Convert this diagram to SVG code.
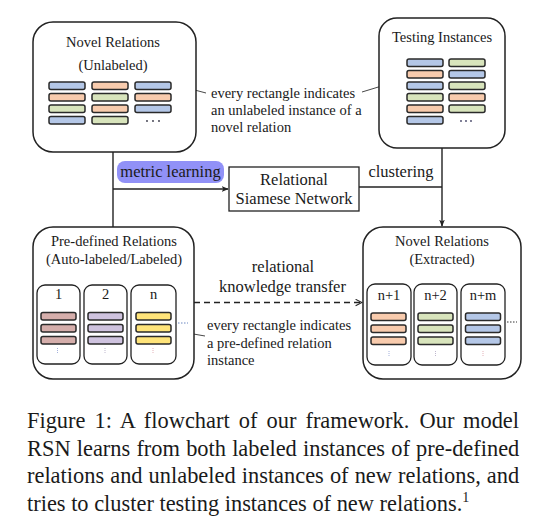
<svg xmlns="http://www.w3.org/2000/svg" width="559" height="532" viewBox="0 0 559 532">
<style>
text{font-family:"Liberation Serif","Times New Roman",serif;fill:#1a1a1a}
.t{font-size:14.5px;text-anchor:middle}
.l{font-size:16.5px}
.a{font-size:14.5px}
.cap{font-size:22.4px}
.box{fill:#fff;stroke:#222;stroke-width:1.5}
.inner{fill:#fff;stroke:#222;stroke-width:1.3}
.r{stroke:#2a2a2a;stroke-width:1.5}
.b{fill:#b4c7e7}.o{fill:#f8cbad}.g{fill:#d8e4bc}.p{fill:#d5aeab}.v{fill:#cfc3df}.y{fill:#ffe47a}
.ln{stroke:#222;stroke-width:1.4;fill:none}
.thin{stroke:#333;stroke-width:0.9;fill:none}
.vd{stroke-width:0.9;stroke-dasharray:1 1}
</style>
<defs>
<marker id="ah" viewBox="0 0 10 10" refX="9" refY="5" markerWidth="7" markerHeight="7" orient="auto" markerUnits="userSpaceOnUse">
<path d="M0,1 L10,5 L0,9 L2.5,5 Z" fill="#222"/>
</marker>
<marker id="open" viewBox="0 0 10 10" refX="9" refY="5" markerWidth="8" markerHeight="8" orient="auto" markerUnits="userSpaceOnUse">
<path d="M1,1 L9,5 L1,9" fill="none" stroke="#222" stroke-width="1.3"/>
</marker>
</defs>

<g id="connectors">
<line class="ln" x1="113" y1="152" x2="113" y2="227"/>
<line class="ln" x1="113" y1="189" x2="228" y2="189" marker-end="url(#ah)"/>
<line class="ln" x1="442" y1="148" x2="442" y2="226" marker-end="url(#ah)"/>
<line class="ln" x1="359" y1="187" x2="442" y2="187"/>
<line class="ln" x1="194" y1="302.5" x2="362" y2="302.5" stroke-dasharray="6 4" marker-end="url(#open)"/>
<line class="thin" x1="172" y1="84" x2="206" y2="93"/>
<line class="thin" x1="362" y1="92" x2="398" y2="81"/>
<line class="thin" x1="176" y1="331" x2="205" y2="336"/>
</g>

<g id="novel-unlabeled">
<rect class="box" x="33" y="22" width="163" height="130" rx="20"/>
<text class="t" x="113" y="47">Novel Relations</text>
<text class="t" x="113" y="70">(Unlabeled)</text>
<rect class="r b" x="49" y="82" width="36" height="7.5" rx="2"/>
<rect class="r o" x="49" y="93.5" width="36" height="7.5" rx="2"/>
<rect class="r g" x="49" y="105" width="36" height="7.5" rx="2"/>
<rect class="r b" x="49" y="116.5" width="36" height="7.5" rx="2"/>
<rect class="r o" x="92" y="82" width="36" height="7.5" rx="2"/>
<rect class="r g" x="92" y="93.5" width="36" height="7.5" rx="2"/>
<rect class="r o" x="92" y="105" width="36" height="7.5" rx="2"/>
<rect class="r g" x="92" y="116.5" width="36" height="7.5" rx="2"/>
<rect class="r b" x="135" y="82" width="36" height="7.5" rx="2"/>
<rect class="r o" x="135" y="93.5" width="36" height="7.5" rx="2"/>
<rect class="r b" x="135" y="105" width="36" height="7.5" rx="2"/>
<g fill="#334"><circle cx="147" cy="121" r="0.9"/><circle cx="153" cy="121" r="0.9"/><circle cx="159" cy="121" r="0.9"/></g>
</g>

<g id="annotation-unlabeled">
<text class="a" x="211" y="98">every rectangle indicates</text>
<text class="a" x="211" y="115">an unlabeled instance of a</text>
<text class="a" x="211" y="132">novel relation</text>
</g>

<g id="testing-instances">
<rect class="box" x="379" y="18" width="126" height="130" rx="18"/>
<text class="t" x="442" y="42">Testing Instances</text>
<rect class="r b" x="407" y="59" width="36" height="7.5" rx="2"/>
<rect class="r o" x="407" y="70.5" width="36" height="7.5" rx="2"/>
<rect class="r b" x="407" y="82" width="36" height="7.5" rx="2"/>
<rect class="r g" x="407" y="93.5" width="36" height="7.5" rx="2"/>
<rect class="r o" x="407" y="105" width="36" height="7.5" rx="2"/>
<rect class="r b" x="407" y="116.5" width="36" height="7.5" rx="2"/>
<rect class="r g" x="449" y="59" width="36" height="7.5" rx="2"/>
<rect class="r b" x="449" y="70.5" width="36" height="7.5" rx="2"/>
<rect class="r g" x="449" y="82" width="36" height="7.5" rx="2"/>
<rect class="r o" x="449" y="93.5" width="36" height="7.5" rx="2"/>
<rect class="r g" x="449" y="105" width="36" height="7.5" rx="2"/>
<g fill="#446"><circle cx="461" cy="121" r="0.9"/><circle cx="466" cy="121" r="0.9"/><circle cx="471" cy="121" r="0.9"/></g>
</g>

<g id="metric-learning">
<rect x="117" y="161" width="107" height="22" rx="8" fill="#9191f7"/>
<text class="l" x="170.5" y="177" text-anchor="middle">metric learning</text>
</g>

<g id="rsn">
<rect x="229" y="167" width="130" height="44" fill="#fff" stroke="#222" stroke-width="1.3"/>
<text class="l" x="294" y="185" text-anchor="middle">Relational</text>
<text class="l" x="294" y="204" text-anchor="middle">Siamese Network</text>
</g>

<g id="clustering">
<text class="l" x="401" y="177" text-anchor="middle">clustering</text>
</g>

<g id="predefined">
<rect class="box" x="33" y="227" width="161" height="152" rx="20"/>
<text class="t" x="114" y="246">Pre-defined Relations</text>
<text class="t" x="114" y="264">(Auto-labeled/Labeled)</text>
<rect class="inner" x="37" y="285" width="43" height="79" rx="8"/>
<rect class="inner" x="84" y="285" width="43" height="79" rx="8"/>
<rect class="inner" x="131" y="285" width="45" height="79" rx="8"/>
<text class="t" x="58.5" y="299">1</text>
<text class="t" x="105.5" y="299">2</text>
<text class="t" x="153.5" y="299">n</text>
<rect class="r p" x="41" y="312.5" width="35" height="7.5" rx="2"/>
<rect class="r p" x="41" y="324.5" width="35" height="7.5" rx="2"/>
<rect class="r p" x="41" y="336.5" width="35" height="7.5" rx="2"/>
<rect class="r v" x="88" y="312.5" width="35" height="7.5" rx="2"/>
<rect class="r v" x="88" y="324.5" width="35" height="7.5" rx="2"/>
<rect class="r v" x="88" y="336.5" width="35" height="7.5" rx="2"/>
<rect class="r y" x="136" y="312.5" width="35" height="7.5" rx="2"/>
<rect class="r y" x="136" y="324.5" width="35" height="7.5" rx="2"/>
<rect class="r y" x="136" y="336.5" width="35" height="7.5" rx="2"/>
<line class="vd" x1="57.5" y1="348" x2="57.5" y2="354" stroke="#9aa8d8"/>
<line class="vd" x1="105" y1="348" x2="105" y2="354" stroke="#b8b0c8"/>
<line class="vd" x1="153" y1="348" x2="153" y2="354" stroke="#e0a8b0"/>
<line x1="178" y1="323" x2="188" y2="323" stroke="#6a86c0" stroke-width="1" stroke-dasharray="1.5 1.5"/>
</g>

<g id="annotation-predefined">
<text class="a" x="207" y="330">every rectangle indicates</text>
<text class="a" x="207" y="347.5">a pre-defined relation</text>
<text class="a" x="207" y="365">instance</text>
</g>

<g id="transfer-label">
<text class="l" x="283" y="272" text-anchor="middle">relational</text>
<text class="l" x="282.5" y="292" text-anchor="middle">knowledge transfer</text>
</g>

<g id="novel-extracted">
<rect class="box" x="363" y="227" width="158" height="152" rx="20"/>
<text class="t" x="442" y="246">Novel Relations</text>
<text class="t" x="442" y="264">(Extracted)</text>
<rect class="inner" x="367" y="284" width="44" height="81" rx="8"/>
<rect class="inner" x="414" y="284" width="43" height="81" rx="8"/>
<rect class="inner" x="461" y="284" width="44" height="81" rx="8"/>
<text class="t" x="389" y="300">n+1</text>
<text class="t" x="435.5" y="300">n+2</text>
<text class="t" x="483" y="300">n+m</text>
<rect class="r o" x="371" y="313" width="35" height="7.5" rx="2"/>
<rect class="r o" x="371" y="325" width="35" height="7.5" rx="2"/>
<rect class="r o" x="371" y="337" width="35" height="7.5" rx="2"/>
<rect class="r g" x="418" y="313" width="35" height="7.5" rx="2"/>
<rect class="r g" x="418" y="325" width="35" height="7.5" rx="2"/>
<rect class="r g" x="418" y="337" width="35" height="7.5" rx="2"/>
<rect class="r b" x="465.5" y="313" width="35" height="7.5" rx="2"/>
<rect class="r b" x="465.5" y="325" width="35" height="7.5" rx="2"/>
<rect class="r b" x="465.5" y="337" width="35" height="7.5" rx="2"/>
<line class="vd" x1="389" y1="351" x2="389" y2="357" stroke="#9aa8d8"/>
<line class="vd" x1="435.5" y1="351" x2="435.5" y2="357" stroke="#b8b0c8"/>
<line class="vd" x1="483" y1="351" x2="483" y2="357" stroke="#e0a8b0"/>
<line x1="507" y1="322" x2="517" y2="322" stroke="#333" stroke-width="1" stroke-dasharray="1.5 1.5"/>
</g>

<g id="caption">
<text class="cap" x="27" y="428" word-spacing="3.5">Figure 1: A flowchart of our framework.</text>
<text class="cap" x="519" y="428" text-anchor="end" word-spacing="3">Our model</text>
<text class="cap" x="27" y="455.5" word-spacing="0.6">RSN learns from both labeled instances of pre-defined</text>
<text class="cap" x="27" y="483" word-spacing="0.5">relations and unlabeled instances of new relations, and</text>
<text class="cap" x="27" y="510.5">tries to cluster testing instances of new relations.<tspan font-size="14" dy="-9">1</tspan></text>
</g>
</svg>
